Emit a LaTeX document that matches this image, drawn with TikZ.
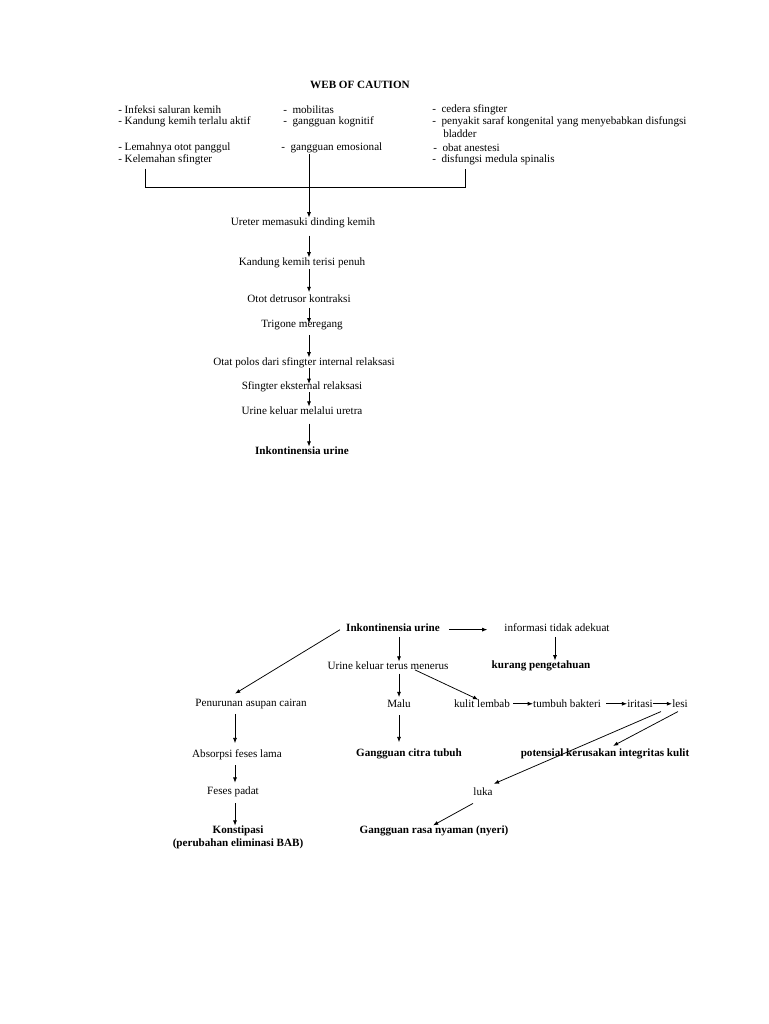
\documentclass[tikz,border=0pt]{standalone}
\usepackage{fontspec}
\setmainfont{Liberation Serif}
\usetikzlibrary{arrows.meta,calc}
\newcommand\fsz{\fontsize{8.9}{10.2}\selectfont}
\begin{document}
\begin{tikzpicture}[x=0.8pt,y=-0.8pt,
  every node/.style={inner sep=0pt, font=\fsz, yshift=-1.4pt},
  b/.style={font=\fsz\bfseries},
  l/.style={anchor=west},
  arr/.style={-{Latex[length=4.2pt,width=3.2pt]}, line width=0.6pt},
  ln/.style={line width=0.6pt}]
\useasboundingbox[fill=white] (0,0) rectangle (768,1024);

% ---------- top part ----------
\node[b] (title) at (360,83) {WEB OF CAUTION};
\node[l] (a1) at (118,108) {- Infeksi saluran kemih};
\node[l] (a2) at (118,120) {- Kandung kemih terlalu aktif};
\node[l] (a3) at (118,146) {- Lemahnya otot panggul};
\node[l] (a4) at (118,158) {- Kelemahan sfingter};
\node[l] (b1) at (283,108) {-\ \ mobilitas};
\node[l] (b2) at (283,120) {-\ \ gangguan kognitif};
\node[l] (b3) at (281,146) {-\ \ gangguan emosional};
\node[l] (c1) at (432,108) {-\ \ cedera sfingter};
\node[l] (c2) at (432,120) {-\ \ penyakit saraf kongenital yang menyebabkan disfungsi};
\node[l] (c3) at (443,132) {bladder};
\node[l] (c4) at (433,146) {-\ \ obat anestesi};
\node[l] (c5) at (432,158) {-\ \ disfungsi medula spinalis};

\coordinate (sp) at (309,0);
\coordinate (bl) at (145,167);
\coordinate (br) at (465,167);
\draw[ln] (bl) -- ++(0,19) -| (br);

\node (u1) at (303,221) {Ureter memasuki dinding kemih};
\node (u2) at (302,261) {Kandung kemih terisi penuh};
\node (u3) at (299,297) {Otot detrusor kontraksi};
\node (u4) at (302,323) {Trigone meregang};
\node (u5) at (304,361) {Otat polos dari sfingter internal relaksasi};
\node (u6) at (302,385) {Sfingter eksternal relaksasi};
\node (u7) at (302,409) {Urine keluar melalui uretra};
\node[b] (u8) at (302,449) {Inkontinensia urine};

\draw[arr] ([yshift=-1pt]b3.south -| sp) -- (u1.north -| sp);
\draw[arr,shorten <=6pt] (u1.south -| sp) -- (u2.north -| sp);
\draw[arr,shorten <=1pt,shorten >=2pt] (u2.south -| sp) -- (u3.north -| sp);
\draw[arr,shorten <=4pt,shorten >=-3pt] (u3.south -| sp) -- (u4.north -| sp);
\draw[arr,shorten <=4pt] (u4.south -| sp) -- (u5.north -| sp);
\draw[arr,shorten >=-2pt] (u5.south -| sp) -- (u6.north -| sp);
\draw[arr] (u6.south -| sp) -- (u7.north -| sp);
\draw[arr,shorten <=7pt] (u7.south -| sp) -- (u8.north -| sp);

% ---------- bottom part ----------
\node[b] (i0) at (393,626) {Inkontinensia urine};
\node (inf) at (557,626) {informasi tidak adekuat};
\node[b] (kp) at (541,664) {kurang pengetahuan};
\node (uk) at (388,664) {Urine keluar terus menerus};
\node (pa) at (251,702) {Penurunan asupan cairan};
\node (malu) at (399,702) {Malu};
\node (kl) at (482,702) {kulit lembab};
\node (tb) at (567,702) {tumbuh bakteri};
\node (ir) at (640,702) {iritasi};
\node (lesi) at (680,702) {lesi};
\node (af) at (237,753) {Absorpsi feses lama};
\node[b] (gct) at (409,752) {Gangguan citra tubuh};
\node[b] (pk) at (605,752) {potensial kerusakan integritas kulit};
\node (fp) at (233,790) {Feses padat};
\node (luka) at (483,790) {luka};
\node[b,align=center] (kon) at (238,835.5) {Konstipasi\\[0pt](perubahan eliminasi BAB)};
\node[b] (grn) at (434,829) {Gangguan rasa nyaman (nyeri)};

\coordinate (kx) at (555,0);
\coordinate (mx) at (399,0);
\coordinate (lx) at (235,0);

\draw[arr] ([xshift=7pt,yshift=-1.5pt]i0.east) -- ([xshift=-13.5pt,yshift=-1.5pt]inf.west);
\draw[arr,shorten <=4pt] (inf.south -| kx) -- (kp.north -| kx);
\draw[arr,shorten <=4pt] (i0.south -| mx) -- (uk.north -| mx);
\draw[arr,shorten <=3pt,shorten >=2pt] (uk.south -| mx) -- (malu.north -| mx);
\draw[arr] ([xshift=21.6pt]uk.south) -- ([xshift=-3pt]kl.north);
\draw[arr] ([xshift=-4.8pt,yshift=-1.6pt]i0.west) -- ([xshift=-12.8pt,yshift=4pt]pa.north);
\draw[arr] ([xshift=2.4pt]kl.east) -- (tb.west);
\draw[arr,shorten <=4pt] (tb.east) -- (ir.west);
\draw[arr] (ir.east) -- (lesi.west);

\draw[arr,shorten <=4pt,shorten >=5pt] (pa.south -| lx) -- (af.north -| lx);
\draw[arr,shorten <=4pt,shorten >=3pt] (af.south -| lx) -- (fp.north -| lx);
\draw[arr,shorten <=5pt] (fp.south -| lx) -- (kon.north -| lx);
\draw[arr,shorten <=6pt,shorten >=5pt] (malu.south -| mx) -- (gct.north -| mx);

\draw[arr] ([xshift=-15.2pt,yshift=-2.9pt]lesi.south) -- ([xshift=0.8pt,yshift=3pt]luka.north east);
\draw[arr] ([xshift=-1.6pt,yshift=-2.9pt]lesi.south) -- ([xshift=6.4pt,yshift=2pt]pk.north);
\draw[arr] ([xshift=-8pt,yshift=-6pt]luka.south) -- ([xshift=-0.8pt]grn.north);
\end{tikzpicture}
\end{document}
